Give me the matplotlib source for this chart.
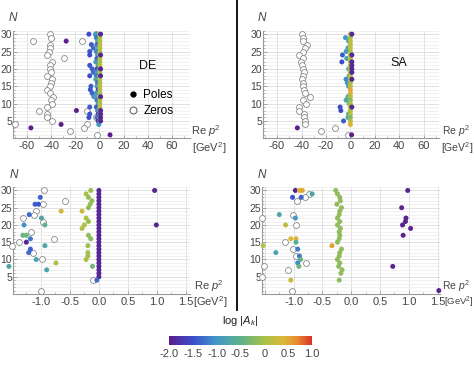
import matplotlib
matplotlib.use("Agg")
import matplotlib.pyplot as plt
from matplotlib.colors import LinearSegmentedColormap, Normalize
from matplotlib.lines import Line2D
from matplotlib.ticker import MultipleLocator

plt.rcParams['font.family'] = ['Liberation Sans', 'DejaVu Sans']
plt.rcParams['mathtext.fontset'] = 'custom'
plt.rcParams['mathtext.rm'] = 'Liberation Sans'
plt.rcParams['mathtext.it'] = 'Liberation Sans:italic'

# ---- data: DE, wide range ----
de_zero_n = [30, 30, 29, 28, 28, 27, 26, 25, 24, 23, 22, 21, 20, 19, 18, 17, 16, 15,
             14, 13, 12, 11, 10, 9, 8, 8, 7, 6, 6, 5, 4, 4, 3, 2, 1]
de_zero_x = [-41, -3, -40, -55, -14, -41, -41, -42, -43, -29.5, -39, -41, -41, -40, -43,
             -39, -40, -41, -43, -41, -38, -40, -39, -43, -50, -10, -43, -43, -3, -39,
             -70, -10, -13, -24, -1.7]
de_pole_n = [30, 28, 27, 26, 25, 24, 21, 20, 19, 18, 15, 14, 13, 12, 9, 8, 7, 6, 4, 3, 1,
             30, 29, 28, 27, 26, 25, 24, 23, 22, 21, 20, 19, 18, 17, 16, 15, 14, 13, 12, 11,
             10, 9, 8, 7, 6, 5, 4,
             30, 29, 28, 27, 26, 25, 24, 23, 22, 21, 20, 19, 18, 17, 16, 15, 14, 13, 12, 11,
             10, 9, 8, 7, 6, 5,
             30, 24, 20, 18, 12, 8, 7, 6, 5]
de_pole_x = [-8.7, -27.5, -6.6, -5, -8, -8, -8, -6, -5, -8, -7, -7.5, -6, -4.5, -8, -19, -8,
             -8.7, -31.7, -56.7, 8.8,
             -3.0, -2.5, -1.5, -2.0, -1.0, -2.5, -1.5, -2.0, -3.0, -1.0, -2.0, -1.5, -2.5,
             -3.0, -1.5, -2.0, -1.0, -2.5, -3.5, -2.0, -1.0, -2.5, -1.5, -1.0, -2.0, -1.0, -0.5,
             0.4, 0.4, 0.4, 0.4, 0.4, 0.4, 0.4, 0.4, 0.4, 0.4, 0.4, 0.4, 0.4, 0.4, 0.4, 0.4,
             0.4, 0.4, 0.4, 0.4, 0.4, 0.4, 0.4, 0.4, 0.4, 0.4,
             1.0, 1.0, 1.0, 1.0, 1.0, 1.0, 1.0, 1.0, 1.0]
de_pole_logA = [-1.5, -2.0, -1.4, -1.3, -1.45, -1.5, -1.45, -1.4, -1.3, -1.5, -1.4, -1.45,
                -1.35, -1.2, -1.4, -2.0, -1.45, -1.5, -2.0, -2.0, -2.0,
                -1.0, -1.2, -0.8, -1.3, -0.6, -1.1, -0.9, -1.4, -0.9, -0.7, -1.5, -1.0, -1.2,
                -0.8, -1.3, -0.9, -1.6, -1.0, -0.8, -1.2, -0.9, -1.4, -1.1, -1.7, -1.3, -1.8, -1.0,
                0.05, 0.1, 0.0, 0.15, 0.1, 0.05, 0.2, 0.1, 0.0, 0.15, 0.1, 0.05, 0.2, 0.1, 0.0,
                0.15, 0.1, 0.05, 0.2, 0.1, 0.0, 0.15, 0.1, -0.2, -0.4, -0.6,
                -1.9, -1.9, -1.9, -1.9, -1.9, -1.9, -1.9, -1.9, -1.9]

# ---- data: SA, wide range ----
sa_zero_n = [30, 29, 28, 27, 26, 25, 24, 23, 22, 21, 20, 19, 18, 17, 16, 15, 14, 13, 12,
             11, 10, 9, 8, 7, 6, 5, 4, 3, 2, 1]
sa_zero_x = [-39.3, -39, -38.5, -35.2, -37, -38.5, -42.3, -38.5, -40.7, -40, -38.5, -38,
             -38.5, -40, -38.5, -39, -38, -37, -33, -39, -36, -42.3, -42.3, -38, -38, -37,
             -37, -13, -24.3, -2]
sa_pole_n = [3, 1, 24, 22, 9, 8, 5, 17, 25, 29, 23, 11, 16,
             28, 26, 20, 18, 15, 12, 10, 7, 6,
             30, 29, 28, 27, 26, 25, 24, 23, 22, 21, 20, 19, 18, 17, 16, 15, 14, 13, 12, 11,
             10, 9, 8, 7, 6, 5, 4,
             30, 24, 22, 21, 20, 19, 17, 9]
sa_pole_x = [-43.4, 1.0, -6.5, -7, -8.4, -7.8, -5.6, -3.6, -3.5, -4, -3, -3.5, -2.5,
             -1.5, -2.0, -1.5, -1.0, -1.5, -2.0, -1.0, -1.5, -2.0,
             0, 0, 0, 0, 0, 0, 0, 0, 0, 0, 0, 0, 0, 0, 0, 0, 0, 0, 0, 0, 0, 0, 0, 0, 0, 0, 0,
             1.2, 1.2, 1.2, 1.2, 1.2, 1.2, 1.2, 1.2]
sa_pole_logA = [-2.0, -2.0, -1.4, -1.5, -1.5, -1.5, -1.4, -1.1, -0.9, -1.0, -0.8, -0.7, -1.0,
                -0.6, -0.8, -0.5, -0.7, -0.9, -0.6, -0.5, -0.7, -0.6,
                0.1, 0.0, 0.15, 0.1, 0.2, 0.05, 0.1, 0.15, 0.0, 0.1, 0.2, 0.05, 0.1, 0.15,
                0.0, 0.2, 0.5, 0.45, 0.1, -0.2, 0.05, 0.1, 0.0, 0.15, -0.3, 0.1, 0.45,
                -1.9, -1.9, -1.9, -1.9, -1.9, -1.9, -1.9, -1.9]

# ---- data: DE, zoomed ----
dez_zero_n = [30, 27, 26, 24, 23, 22, 21, 18, 16, 15, 14, 12, 10, 4, 1]
dez_zero_x = [-0.95, -0.58, -0.96, -1.08, -1.12, -1.31, -0.97, -1.17, -0.78, -1.37, -1.5,
              -1.13, -0.98, -0.1, -1.0]
dez_pole_n = [30, 29, 28, 27, 26, 25, 24, 23, 22, 21, 20, 19, 18, 17, 16, 15, 14, 13, 12,
              11, 10, 9, 8, 7, 6, 5, 4,
              30, 29, 28, 27, 26, 25, 24, 22, 21, 20, 19, 17, 16, 14, 12, 11, 10, 8,
              28, 26, 26, 24, 23, 22, 20, 20, 17, 17, 16, 15, 14, 13, 12, 10, 9, 8, 7,
              30, 20]
dez_pole_x = [0, 0, 0, 0, 0, 0, 0, 0, 0, 0, 0, 0, 0, 0, 0, 0, 0, 0, 0, 0, 0, 0, 0, 0, 0, 0,
              -0.035,
              -0.14, -0.22, -0.18, -0.12, -0.15, -0.18, -0.29, -0.22, -0.18, -0.25, -0.29,
              -0.18, -0.14, -0.19, -0.19, -0.19, -0.22, -0.11,
              -1.01, -1.1, -1.04, -0.65, -1.2, -0.99, -1.29, -0.93, -1.31, -1.25, -1.18,
              -1.25, -0.93, -1.18, -1.21, -1.08, -0.74, -1.55, -0.9,
              0.96, 0.99]
dez_pole_logA = [-1.9] * 26 + [-1.3,
                 -0.05, 0.0, -0.1, -0.15, -0.1, -0.15, 0.25, 0.05, -0.1, 0.05, 0.1, -0.15,
                 -0.2, -0.05, 0.0, -0.05, 0.05, -0.35,
                 -1.35, -1.4, -1.45, 0.25, -1.3, -0.75, -1.05, -0.5, -0.4, -0.4, -1.2,
                 -1.95, -0.75, -1.35, -1.3, -0.8, 0.05, -0.75, -0.75,
                 -1.95, -1.95]

# ---- data: SA, zoomed ----
saz_zero_n = [29, 28, 27, 23, 22, 20, 15, 13, 11, 9, 8, 7, 5, 1]
saz_zero_x = [-0.73, -0.81, -0.95, -1.02, -1.55, -0.96, -1.15, -1.02, -0.96, -0.79, -1.52,
              -1.1, -1.55, -1.03]
saz_pole_n = [30, 29, 28, 27, 26, 25, 24, 23, 22, 21, 20, 19, 18, 17, 16, 15, 13, 12, 11,
              10, 9, 8, 7, 6, 4, 14,
              30, 30, 30, 29, 28, 28, 23, 22, 20, 16, 16, 15, 14, 13, 12, 11, 10, 9, 8, 4,
              30, 25, 22, 21, 20, 19, 17, 8, 1]
saz_pole_x = [-0.27, -0.24, -0.2, -0.19, -0.25, -0.17, -0.2, -0.21, -0.24, -0.2, -0.24,
              -0.19, -0.21, -0.2, -0.21, -0.24, -0.17, -0.2, -0.21, -0.24, -0.2, -0.22,
              -0.16, -0.18, -0.21, -0.335,
              -0.97, -0.9, -0.85, -0.68, -1.02, -0.87, -1.25, -0.97, -1.14, -1.05, -0.96,
              -0.96, -1.53, -0.93, -1.31, -0.9, -0.88, -0.93, -0.91, -1.05,
              0.98, 0.875, 0.95, 0.94, 0.89, 1.03, 0.9, 0.72, 1.52]
saz_pole_logA = [-0.15] * 25 + [0.55,
                 -1.95, 0.45, 0.5, -0.75, -1.45, -1.35, -0.8, -1.0, 0.15, 0.4, 0.35, -0.6,
                 0.1, -1.2, -0.8, -1.2, -0.45, -1.1, -0.4, 0.2,
                 -1.95, -1.95, -1.95, -1.95, -1.95, -1.95, -1.95, -1.95, -1.95]

cbar_ticks = [-2.0, -1.5, -1.0, -0.5, 0, 0.5, 1.0]
cbar_labels = ['-2.0', '-1.5', '-1.0', '-0.5', '0', '0.5', '1.0']

cmap = LinearSegmentedColormap.from_list('rainbowA', [
    (0.0, '#5b1e8b'), (0.17, '#3c4fcb'), (0.33, '#4196c8'), (0.5, '#5cb28a'),
    (0.67, '#a8c148'), (0.8, '#dbb83a'), (0.9, '#e8892e'), (1.0, '#d93128')])
norm = Normalize(-2, 1)

W, H = 474, 367
fig = plt.figure(figsize=(W / 100, H / 100), dpi=100)

def px_axes(l, t, r, b):
    return fig.add_axes([l / W, 1 - b / H, (r - l) / W, (b - t) / H])

def style(ax, xlim, xmajor, xminor, xticks_fmt):
    ax.set_xlim(*xlim)
    ax.set_ylim(0, 31)
    for s in ['top', 'right']:
        ax.spines[s].set_visible(False)
    for s in ['left', 'bottom']:
        ax.spines[s].set_color('#9a9a9a')
        ax.spines[s].set_linewidth(0.8)
    ax.xaxis.set_major_locator(MultipleLocator(xmajor))
    ax.xaxis.set_minor_locator(MultipleLocator(xminor))
    ax.yaxis.set_minor_locator(MultipleLocator(1))
    ax.set_yticks([5, 10, 15, 20, 25, 30])
    ax.xaxis.set_major_formatter(xticks_fmt)
    ax.tick_params(which='major', direction='in', length=3, width=0.6, color='#9a9a9a',
                   labelsize=8, labelcolor='#444444', pad=2)
    ax.tick_params(axis='y', which='major', pad=0.5, labelsize=7.5)
    ax.tick_params(which='minor', direction='in', length=1.5, width=0.5, color='#9a9a9a')
    ax.grid(which='major', color='#dcdcdc', lw=0.6)
    ax.grid(which='minor', axis='y', color='#ececec', lw=0.5)
    ax.set_axisbelow(True)

def draw(ax, zn, zx, pn, px, pc):
    ax.scatter(zx, zn, s=18, facecolors='white', edgecolors='#8a8a8a', linewidths=0.6,
               zorder=3, clip_on=False)
    ax.scatter(px, pn, s=13, c=pc, cmap=cmap, norm=norm, edgecolors='none', zorder=4,
               clip_on=False)

fmt_top = matplotlib.ticker.FuncFormatter(lambda v, p: '%d' % v if abs(v) <= 60 else '')
fmt_bot = matplotlib.ticker.FuncFormatter(lambda v, p: '%.1f' % v if -1.01 < v < 1.51 else '')

ax1 = px_axes(13, 30.7, 190, 138.3)
style(ax1, (-71.5, 75), 20, 10, fmt_top)
draw(ax1, de_zero_n, de_zero_x, de_pole_n, de_pole_x, de_pole_logA)

ax2 = px_axes(263, 30.7, 439, 138.3)
style(ax2, (-71.5, 72.5), 20, 10, fmt_top)
draw(ax2, sa_zero_n, sa_zero_x, sa_pole_n, sa_pole_x, sa_pole_logA)

ax3 = px_axes(13, 187, 190, 294)
style(ax3, (-1.48, 1.57), 0.5, 0.25, fmt_bot)
draw(ax3, dez_zero_n, dez_zero_x, dez_pole_n, dez_pole_x, dez_pole_logA)

ax4 = px_axes(262, 187, 439.7, 294)
style(ax4, (-1.55, 1.535), 0.5, 0.25, fmt_bot)
draw(ax4, saz_zero_n, saz_zero_x, saz_pole_n, saz_pole_x, saz_pole_logA)

def ftext(x, y, s, **kw):
    fig.text(x / W, 1 - y / H, s, **kw)

lab = dict(fontsize=8, color='#444444', va='center')
labr = dict(fontsize=7.5, color='#444444', va='center', ha='right')
for xN, yN in [(13, 18), (262, 18), (14, 175), (262, 175)]:
    ftext(xN, yN, 'N', fontsize=8.5, color='#444444', style='italic', ha='center', va='center')
ftext(206, 131, r'Re $p^2$', ha='center', **lab)
ftext(209, 148, r'[GeV$^2$]', ha='center', **lab)
ftext(470, 131, r'Re $p^2$', **labr)
ftext(473, 148, r'[GeV$^2$]', **labr)
ftext(209, 286, r'Re $p^2$', ha='center', **lab)
ftext(193, 302, r'[GeV$^2$]', ha='left', **lab)
ftext(470, 286, r'Re $p^2$', **labr)
ftext(474, 302, r'[GeV$^2$]', fontsize=6.8, color='#444444', va='center', ha='right')

ftext(148, 66, 'DE', fontsize=9, color='#111111', ha='center', va='center')
ftext(399, 63, 'SA', fontsize=9, color='#111111', ha='center', va='center')

handles = [Line2D([], [], marker='o', ls='', color='black', ms=3.5),
           Line2D([], [], marker='o', ls='', mfc='white', mec='#555555', mew=0.7, ms=5)]
fig.legend(handles, ['Poles', 'Zeros'], loc='upper left',
           bbox_to_anchor=(121 / W, 1 - 83 / H), frameon=False, fontsize=8.5,
           handletextpad=0.4, labelspacing=0.35, handlelength=1.0, borderpad=0)

# vertical divider
fig.add_artist(Line2D([237 / W, 237 / W], [1.0, 1 - 310 / H], color='black', lw=1.3))

# colour bar
cax = px_axes(169, 335.7, 312, 345)
cb = fig.colorbar(matplotlib.cm.ScalarMappable(norm=norm, cmap=cmap), cax=cax,
                  orientation='horizontal', ticks=cbar_ticks)
cb.ax.set_xticklabels(cbar_labels)
cb.outline.set_visible(False)
cb.ax.tick_params(length=0, labelsize=8, labelcolor='#444444', pad=3)
ftext(240, 321, r'log |$A_k$|', fontsize=8, color='#222222', ha='center', va='center')

fig.savefig('out.png', dpi=100)
